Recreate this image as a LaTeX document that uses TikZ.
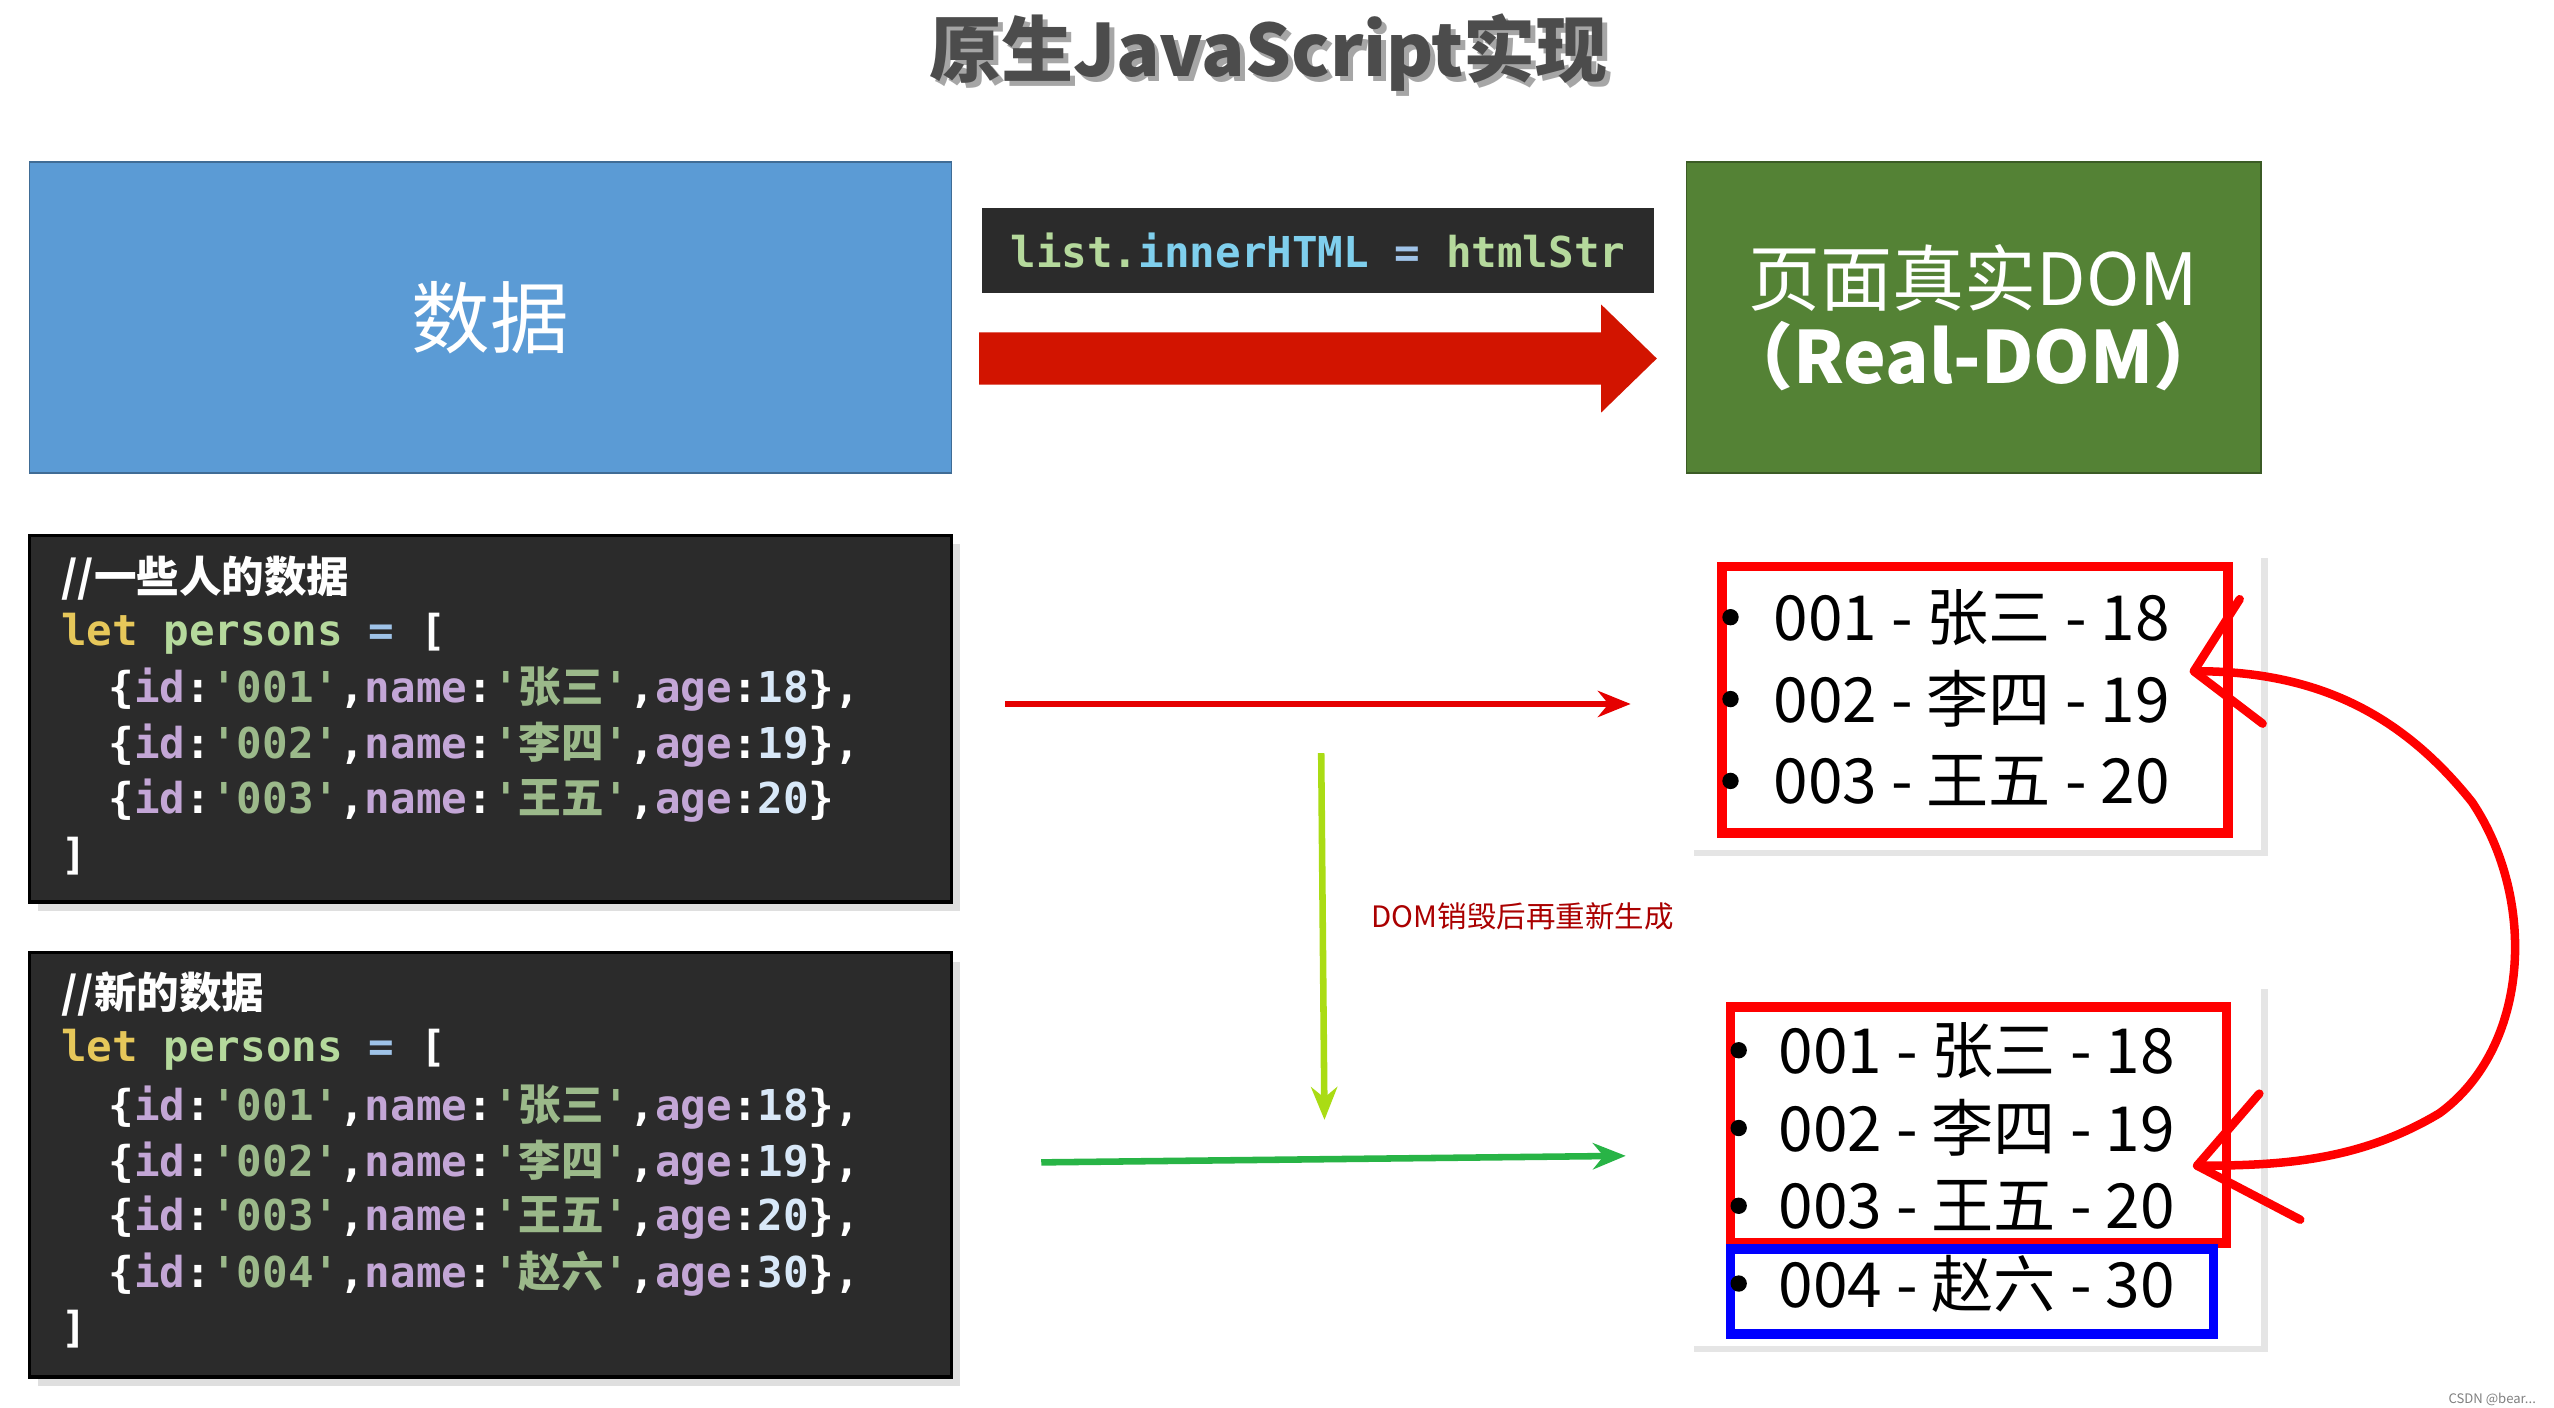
\documentclass[tikz,border=0pt]{standalone}
\usepackage{fontspec}
\setmainfont{Noto Sans CJK SC}
\newfontfamily\cjk{Noto Sans CJK SC}
\newfontfamily\mono{DejaVu Sans Mono}
\usetikzlibrary{arrows.meta,shadows}
\definecolor{kw}{HTML}{E6C75A}
\definecolor{vr}{HTML}{B5D99C}
\definecolor{pp}{HTML}{C3A6D6}
\definecolor{st}{HTML}{9BB98A}
\definecolor{nm}{HTML}{D8E8F8}
\definecolor{op}{HTML}{9FC3E8}
\definecolor{bx}{HTML}{5B9BD5}
\definecolor{gb}{HTML}{548235}
\definecolor{code}{HTML}{2B2B2B}
\newcommand{\cj}[1]{{\cjk\bfseries #1}}
\newcommand{\codeln}[4]{\textcolor{white}{\{}\textcolor{pp}{id}\textcolor{white}{:}\textcolor{st}{'#1'}\textcolor{white}{,}\textcolor{pp}{name}\textcolor{white}{:}\textcolor{st}{'\cj{#2}'}\textcolor{white}{,}\textcolor{pp}{age}\textcolor{white}{:}\textcolor{nm}{#3}\textcolor{white}{\}#4}}
\tikzset{
 codebox/.style={fill=code,draw=black,line width=1pt,outer sep=0,drop shadow={opacity=0.25}},
 codeline/.style={anchor=west,inner sep=0,font=\mono\bfseries\fontsize{13}{15}\selectfont,text=white},
 panel/.style={fill=white,outer sep=0,drop shadow={opacity=0.2,shadow xshift=2pt,shadow yshift=-2pt}},
 item/.style={anchor=west,inner sep=0,font=\cjk\fontsize{19}{22}\selectfont},
 bullet/.style={circle,fill=black,inner sep=0,minimum size=5pt},
 hand/.style={draw=red,line width=2.6pt,line cap=round,line join=round},
}
\begin{document}
\begin{tikzpicture}[x=0.5pt,y=-0.5pt]
\useasboundingbox[fill=white] (0,0) rectangle (1560,860);
% title
\node[font=\cjk\bfseries\fontsize{22}{24}\selectfont,text=black!35] at (778,35) {原生JavaScript实现};
\node (title)[font=\cjk\bfseries\fontsize{22}{24}\selectfont,text=black!70] at (775,32) {原生JavaScript实现};
% data box
\node (data)[fill=bx,draw=bx!70!black,outer sep=0,minimum width=281.5pt,minimum height=95pt,anchor=north west,font=\cjk\fontsize{24}{26}\selectfont,text=white] at (18,99) {数据};
% code label
\node (lbl)[fill=code,outer sep=0,minimum width=205pt,minimum height=26pt,anchor=north west,font=\mono\bfseries\fontsize{13}{15}\selectfont] at (600,127) {\textcolor{vr}{list.}\textcolor{op!80!cyan}{innerHTML} \textcolor{op}{=} \textcolor{vr}{htmlStr}};
% big arrow
\fill[fill={rgb,255:red,210;green,20;blue,0}] (598,203) -- (978,203) -- (978,186) -- (1012,219) -- (978,252) -- (978,235) -- (598,235) -- cycle;
% real dom box
\node (dom)[fill=gb,draw=gb!70!black,outer sep=0,minimum width=175.5pt,minimum height=95pt,anchor=north west,align=center,text=white,font=\cjk\fontsize{22}{26}\selectfont] at (1030,99) {页面真实DOM\\[-2pt]{\bfseries（Real-DOM）}};
% code box 1
\node (c1)[codebox,minimum width=281.5pt,minimum height=112pt,anchor=north west] at (18,327) {};
\node[codeline] at (37,353) {\cj{//一些人的数据}};
\node[codeline] at (37,387) {\textcolor{kw}{let} \textcolor{vr}{persons} \textcolor{op}{=} [};
\node[codeline] at (66,421) {\codeln{001}{张三}{18}{,}};
\node[codeline] at (66,455) {\codeln{002}{李四}{19}{,}};
\node[codeline] at (66,489) {\codeln{003}{王五}{20}{}};
\node[codeline] at (37,523) {]};
% code box 2
\node (c2)[codebox,minimum width=281.5pt,minimum height=129.5pt,anchor=north west] at (18,582) {};
\node[codeline] at (37,607) {\cj{//新的数据}};
\node[codeline] at (37,641) {\textcolor{kw}{let} \textcolor{vr}{persons} \textcolor{op}{=} [};
\node[codeline] at (66,676) {\codeln{001}{张三}{18}{,}};
\node[codeline] at (66,710) {\codeln{002}{李四}{19}{,}};
\node[codeline] at (66,744) {\codeln{003}{王五}{20}{,}};
\node[codeline] at (66,778) {\codeln{004}{赵六}{30}{,}};
\node[codeline] at (37,812) {]};
% list panel 1
\node (p1)[panel,minimum width=175pt,minimum height=91pt,anchor=north west] at (1031,337) {};
\draw[red,line width=3pt] (1052,346) rectangle (1361,509);
\foreach \t [count=\i] in {001 - 张三 - 18,002 - 李四 - 19,003 - 王五 - 20}{
 \node[bullet] at (1057,{327+50*\i}) {};
 \node[item] at (1083,{327+50*\i}) {\t};
}
% list panel 2
\node (p2)[panel,minimum width=175pt,minimum height=111pt,anchor=north west] at (1031,600) {};
\draw[red,line width=3pt] (1057,615) rectangle (1360,759);
\draw[blue,line width=3pt] (1057,763) rectangle (1352,815);
\foreach \t [count=\i] in {001 - 张三 - 18,002 - 李四 - 19,003 - 王五 - 20,004 - 赵六 - 30}{
 \node[bullet] at (1062,{594+47.5*\i}) {};
 \node[item] at (1086,{594+47.5*\i}) {\t};
}
% arrows
\coordinate (r1) at (614,430); \coordinate (r2) at (996,430);
\draw[red!90!black,line width=2pt,-{Stealth[length=10pt,width=8pt]}] (r1) -- (r2);
\coordinate (g1) at (636,710); \coordinate (g2) at (993,706);
\draw[draw={rgb,255:red,40;green,180;blue,70},line width=2pt,-{Stealth[length=10pt,width=8pt]}] (g1) -- (g2);
\coordinate (y1) at (807,460); \coordinate (y2) at (809,684);
\draw[draw={rgb,255:red,170;green,220;blue,20},line width=2pt,-{Stealth[length=10pt,width=8pt]}] (y1) -- (y2);
\node (msg)[text={rgb,255:red,170;green,0;blue,0},font=\cjk\fontsize{9}{10}\selectfont] at (930,560) {DOM销毁后再重新生成};
% hand-drawn curve
\draw[hand] (1368,366) -- (1340,410) -- (1382,442);
\draw[hand] (1342,410) .. controls (1420,410) and (1470,440) .. (1510,490) .. controls (1550,550) and (1545,640) .. (1490,680) .. controls (1440,710) and (1390,712) .. (1342,712);
\draw[hand] (1380,668) -- (1342,712) -- (1405,745);
\node[font=\fontsize{4}{5}\selectfont,text=gray,anchor=east] at (1556,855) {CSDN @bear...};
\end{tikzpicture}
\end{document}
